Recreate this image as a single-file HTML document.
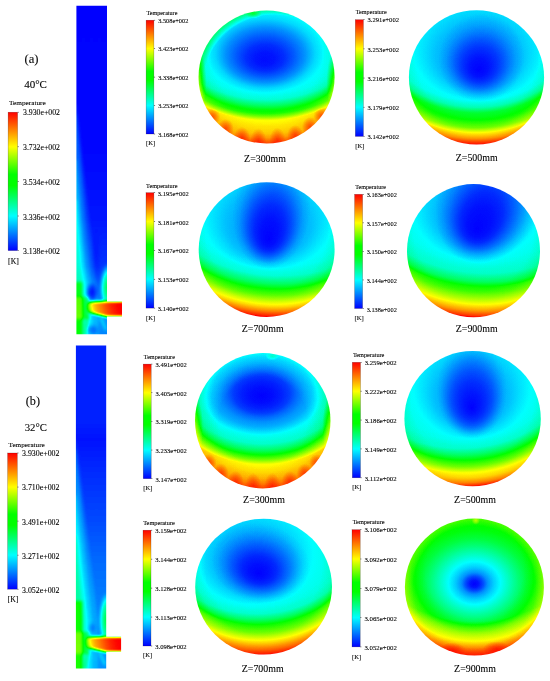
<!DOCTYPE html>
<html><head><meta charset="utf-8"><title>Temperature contours</title>
<style>
html,body{margin:0;padding:0;background:#fff}
svg{display:block}
text{font-family:"Liberation Serif",serif;fill:#000;stroke:#000;stroke-width:.09px}
</style></head><body>
<svg width="550" height="681" viewBox="0 0 550 681">
<defs>
<filter id="jet" x="0" y="0" width="1" height="1" filterUnits="objectBoundingBox" color-interpolation-filters="sRGB">
 <feComponentTransfer>
  <feFuncR type="table" tableValues="0 0 0 1 1"/>
  <feFuncG type="table" tableValues="0 1 1 1 0"/>
  <feFuncB type="table" tableValues="1 1 0 0 0"/>
 </feComponentTransfer>
</filter>
<filter id="jetb" x="-0.5" y="-0.1" width="2.5" height="1.2" color-interpolation-filters="sRGB">
 <feGaussianBlur stdDeviation="1.4"/>
 <feComponentTransfer>
  <feFuncR type="table" tableValues="0 0 0 1 1"/>
  <feFuncG type="table" tableValues="0 1 1 1 0"/>
  <feFuncB type="table" tableValues="1 1 0 0 0"/>
 </feComponentTransfer>
</filter>
<linearGradient id="bar" x1="0" y1="0" x2="0" y2="1">
 <stop offset="0" stop-color="#ff0000"/>
 <stop offset="0.25" stop-color="#ffff00"/>
 <stop offset="0.45" stop-color="#00ff00"/>
 <stop offset="0.53" stop-color="#00ff00"/>
 <stop offset="0.75" stop-color="#00ffff"/>
 <stop offset="1" stop-color="#0000ff"/>
</linearGradient>

<radialGradient id="c1" gradientUnits="userSpaceOnUse" cx="0" cy="-0.25" fx="0" fy="0" r="1.25" gradientTransform="translate(-0.02 -0.25) scale(1.4 1)"><stop offset="0" stop-color="#030303"/><stop offset="0.08" stop-color="#050505"/><stop offset="0.16" stop-color="#0b0b0b"/><stop offset="0.24" stop-color="#161616"/><stop offset="0.33" stop-color="#242424"/><stop offset="0.42" stop-color="#363636"/><stop offset="0.5" stop-color="#404040"/><stop offset="0.64" stop-color="#454545"/><stop offset="1" stop-color="#4a4a4a"/></radialGradient>
<radialGradient id="s1_0" gradientUnits="userSpaceOnUse" cx="0" cy="-0.3" r="1.38"><stop offset="0.5797" stop-color="#fff" stop-opacity="0"/><stop offset="0.6884" stop-color="#fff" stop-opacity="0.0274"/><stop offset="0.7826" stop-color="#fff" stop-opacity="0.11"/><stop offset="0.8551" stop-color="#fff" stop-opacity="0.219"/><stop offset="0.942" stop-color="#fff" stop-opacity="0.342"/></radialGradient>
<radialGradient id="s1_1" gradientUnits="userSpaceOnUse" cx="0" cy="-1.6" r="2.68"><stop offset="0.6604" stop-color="#fff" stop-opacity="0"/><stop offset="0.6903" stop-color="#fff" stop-opacity="0.00685"/><stop offset="0.7239" stop-color="#fff" stop-opacity="0.0411"/><stop offset="0.7575" stop-color="#fff" stop-opacity="0.178"/><stop offset="0.7799" stop-color="#fff" stop-opacity="0.288"/><stop offset="0.8022" stop-color="#fff" stop-opacity="0.336"/><stop offset="0.8209" stop-color="#fff" stop-opacity="0.47"/><stop offset="0.8396" stop-color="#fff" stop-opacity="0.634"/><stop offset="0.8769" stop-color="#fff" stop-opacity="0.654"/><stop offset="0.9142" stop-color="#fff" stop-opacity="0.663"/><stop offset="0.9366" stop-color="#fff" stop-opacity="0.708"/><stop offset="0.9552" stop-color="#fff" stop-opacity="0.784"/><stop offset="0.9701" stop-color="#fff" stop-opacity="0.854"/></radialGradient>
<clipPath id="k1"><ellipse cx="266.55" cy="77" rx="68.05" ry="66.5"/></clipPath>
<radialGradient id="r1_0" gradientUnits="userSpaceOnUse" cx="0.12" cy="0.12" r="1.16971"><stop offset="0.9" stop-color="#fff" stop-opacity="0"/><stop offset="1" stop-color="#fff" stop-opacity="0.2"/></radialGradient>
<radialGradient id="b1_1"><stop offset="0" stop-color="#ffffff" stop-opacity="0.2"/><stop offset="0.5" stop-color="#ffffff" stop-opacity="0.11"/><stop offset="1" stop-color="#ffffff" stop-opacity="0"/></radialGradient>
<radialGradient id="b1_2"><stop offset="0" stop-color="#ffffff" stop-opacity="0.4"/><stop offset="0.5" stop-color="#ffffff" stop-opacity="0.22"/><stop offset="1" stop-color="#ffffff" stop-opacity="0"/></radialGradient>
<radialGradient id="b1_3"><stop offset="0" stop-color="#ffffff" stop-opacity="0.4"/><stop offset="0.5" stop-color="#ffffff" stop-opacity="0.22"/><stop offset="1" stop-color="#ffffff" stop-opacity="0"/></radialGradient>
<radialGradient id="b1_4"><stop offset="0" stop-color="#ffffff" stop-opacity="0.6"/><stop offset="0.5" stop-color="#ffffff" stop-opacity="0.33"/><stop offset="1" stop-color="#ffffff" stop-opacity="0"/></radialGradient>
<radialGradient id="b1_5"><stop offset="0" stop-color="#ffffff" stop-opacity="0.6"/><stop offset="0.5" stop-color="#ffffff" stop-opacity="0.33"/><stop offset="1" stop-color="#ffffff" stop-opacity="0"/></radialGradient>
<radialGradient id="b1_6"><stop offset="0" stop-color="#ffffff" stop-opacity="0.6"/><stop offset="0.5" stop-color="#ffffff" stop-opacity="0.33"/><stop offset="1" stop-color="#ffffff" stop-opacity="0"/></radialGradient>
<radialGradient id="b1_7"><stop offset="0" stop-color="#ffffff" stop-opacity="0.6"/><stop offset="0.5" stop-color="#ffffff" stop-opacity="0.33"/><stop offset="1" stop-color="#ffffff" stop-opacity="0"/></radialGradient>
<radialGradient id="b1_8"><stop offset="0" stop-color="#ffffff" stop-opacity="0.6"/><stop offset="0.5" stop-color="#ffffff" stop-opacity="0.33"/><stop offset="1" stop-color="#ffffff" stop-opacity="0"/></radialGradient>
<radialGradient id="b1_9"><stop offset="0" stop-color="#ffffff" stop-opacity="0.6"/><stop offset="0.5" stop-color="#ffffff" stop-opacity="0.33"/><stop offset="1" stop-color="#ffffff" stop-opacity="0"/></radialGradient>
<radialGradient id="b1_10"><stop offset="0" stop-color="#ffffff" stop-opacity="0.6"/><stop offset="0.5" stop-color="#ffffff" stop-opacity="0.33"/><stop offset="1" stop-color="#ffffff" stop-opacity="0"/></radialGradient>
<radialGradient id="b1_11"><stop offset="0" stop-color="#ffffff" stop-opacity="0.6"/><stop offset="0.5" stop-color="#ffffff" stop-opacity="0.33"/><stop offset="1" stop-color="#ffffff" stop-opacity="0"/></radialGradient>
<radialGradient id="c2" gradientUnits="userSpaceOnUse" cx="0" cy="-0.7" fx="0" fy="0" r="1.7" gradientTransform="translate(0.03 -0.11) scale(1.235 1)"><stop offset="0" stop-color="#212121"/><stop offset="0.15" stop-color="#262626"/><stop offset="0.3" stop-color="#303030"/><stop offset="0.38" stop-color="#383838"/><stop offset="0.47" stop-color="#404040"/><stop offset="0.6" stop-color="#454545"/><stop offset="1" stop-color="#4a4a4a"/></radialGradient>
<radialGradient id="s2_0" gradientUnits="userSpaceOnUse" cx="0" cy="-0.3" r="1.38"><stop offset="0.6522" stop-color="#fff" stop-opacity="0"/><stop offset="0.7609" stop-color="#fff" stop-opacity="0.0411"/><stop offset="0.8551" stop-color="#fff" stop-opacity="0.151"/><stop offset="0.942" stop-color="#fff" stop-opacity="0.315"/></radialGradient>
<radialGradient id="s2_1" gradientUnits="userSpaceOnUse" cx="0" cy="-1.4" r="2.48"><stop offset="0.6653" stop-color="#fff" stop-opacity="0"/><stop offset="0.7056" stop-color="#fff" stop-opacity="0.00685"/><stop offset="0.744" stop-color="#fff" stop-opacity="0.0822"/><stop offset="0.7782" stop-color="#fff" stop-opacity="0.247"/><stop offset="0.8226" stop-color="#fff" stop-opacity="0.307"/><stop offset="0.8669" stop-color="#fff" stop-opacity="0.429"/><stop offset="0.8972" stop-color="#fff" stop-opacity="0.618"/><stop offset="0.9315" stop-color="#fff" stop-opacity="0.746"/><stop offset="0.9617" stop-color="#fff" stop-opacity="0.942"/><stop offset="0.9677" stop-color="#fff" stop-opacity="1"/></radialGradient>
<clipPath id="k2"><ellipse cx="476.5" cy="77.4" rx="67.6" ry="67.2"/></clipPath>
<radialGradient id="w2" gradientUnits="userSpaceOnUse" cx="0" cy="-0.4" fx="0" fy="0" r="1.4" gradientTransform="translate(0.03 -0.11) rotate(14) scale(0.9643 1)"><stop offset="0" stop-color="#000" stop-opacity="1"/><stop offset="0.1" stop-color="#000" stop-opacity="0.88"/><stop offset="0.19" stop-color="#000" stop-opacity="0.66"/><stop offset="0.26" stop-color="#000" stop-opacity="0.45"/><stop offset="0.32" stop-color="#000" stop-opacity="0.27"/><stop offset="0.38" stop-color="#000" stop-opacity="0.13"/><stop offset="0.47" stop-color="#000" stop-opacity="0"/></radialGradient>
<radialGradient id="c3" gradientUnits="userSpaceOnUse" cx="0" cy="-0.8" fx="0" fy="0" r="1.8" gradientTransform="translate(0.03 -0.15) scale(1.167 1)"><stop offset="0" stop-color="#212121"/><stop offset="0.15" stop-color="#262626"/><stop offset="0.3" stop-color="#303030"/><stop offset="0.38" stop-color="#383838"/><stop offset="0.47" stop-color="#404040"/><stop offset="0.6" stop-color="#454545"/><stop offset="1" stop-color="#4a4a4a"/></radialGradient>
<radialGradient id="s3_0" gradientUnits="userSpaceOnUse" cx="0" cy="-0.3" r="1.38"><stop offset="0.6522" stop-color="#fff" stop-opacity="0"/><stop offset="0.7609" stop-color="#fff" stop-opacity="0.0411"/><stop offset="0.8551" stop-color="#fff" stop-opacity="0.123"/><stop offset="0.942" stop-color="#fff" stop-opacity="0.247"/></radialGradient>
<radialGradient id="s3_1" gradientUnits="userSpaceOnUse" cx="0.2" cy="-2" r="3.08"><stop offset="0.7013" stop-color="#fff" stop-opacity="0"/><stop offset="0.7305" stop-color="#fff" stop-opacity="0.00685"/><stop offset="0.776" stop-color="#fff" stop-opacity="0.0411"/><stop offset="0.8149" stop-color="#fff" stop-opacity="0.178"/><stop offset="0.8409" stop-color="#fff" stop-opacity="0.315"/><stop offset="0.8701" stop-color="#fff" stop-opacity="0.412"/><stop offset="0.901" stop-color="#fff" stop-opacity="0.564"/><stop offset="0.9253" stop-color="#fff" stop-opacity="0.664"/><stop offset="0.9481" stop-color="#fff" stop-opacity="0.787"/><stop offset="0.9708" stop-color="#fff" stop-opacity="0.946"/><stop offset="0.974" stop-color="#fff" stop-opacity="1"/></radialGradient>
<clipPath id="k3"><ellipse cx="266.65" cy="249.55" rx="67.95" ry="67.35"/></clipPath>
<radialGradient id="w3" gradientUnits="userSpaceOnUse" cx="0" cy="-1" fx="0" fy="0" r="2" gradientTransform="translate(0.03 -0.15) rotate(6) scale(0.65 1)"><stop offset="0" stop-color="#000" stop-opacity="1"/><stop offset="0.1" stop-color="#000" stop-opacity="0.9"/><stop offset="0.17" stop-color="#000" stop-opacity="0.75"/><stop offset="0.23" stop-color="#000" stop-opacity="0.55"/><stop offset="0.3" stop-color="#000" stop-opacity="0.3"/><stop offset="0.36" stop-color="#000" stop-opacity="0.12"/><stop offset="0.44" stop-color="#000" stop-opacity="0"/></radialGradient>
<radialGradient id="c4" gradientUnits="userSpaceOnUse" cx="0" cy="-0.8" fx="0" fy="0" r="1.8" gradientTransform="translate(0.05 -0.32) scale(1.167 1)"><stop offset="0" stop-color="#212121"/><stop offset="0.15" stop-color="#262626"/><stop offset="0.3" stop-color="#303030"/><stop offset="0.38" stop-color="#383838"/><stop offset="0.47" stop-color="#404040"/><stop offset="0.6" stop-color="#454545"/><stop offset="1" stop-color="#4a4a4a"/></radialGradient>
<radialGradient id="s4_0" gradientUnits="userSpaceOnUse" cx="0" cy="-0.3" r="1.38"><stop offset="0.6522" stop-color="#fff" stop-opacity="0"/><stop offset="0.7609" stop-color="#fff" stop-opacity="0.0411"/><stop offset="0.8551" stop-color="#fff" stop-opacity="0.123"/><stop offset="0.942" stop-color="#fff" stop-opacity="0.247"/></radialGradient>
<radialGradient id="s4_1" gradientUnits="userSpaceOnUse" cx="0.2" cy="-2.2" r="3.28"><stop offset="0.7012" stop-color="#fff" stop-opacity="0"/><stop offset="0.7256" stop-color="#fff" stop-opacity="0.00685"/><stop offset="0.7744" stop-color="#fff" stop-opacity="0.0411"/><stop offset="0.814" stop-color="#fff" stop-opacity="0.178"/><stop offset="0.8354" stop-color="#fff" stop-opacity="0.315"/><stop offset="0.8598" stop-color="#fff" stop-opacity="0.38"/><stop offset="0.8902" stop-color="#fff" stop-opacity="0.504"/><stop offset="0.9192" stop-color="#fff" stop-opacity="0.627"/><stop offset="0.9482" stop-color="#fff" stop-opacity="0.757"/><stop offset="0.971" stop-color="#fff" stop-opacity="0.911"/><stop offset="0.9756" stop-color="#fff" stop-opacity="1"/></radialGradient>
<clipPath id="k4"><ellipse cx="473.5" cy="250.7" rx="66.5" ry="66.6"/></clipPath>
<radialGradient id="w4" gradientUnits="userSpaceOnUse" cx="0" cy="-1" fx="0" fy="0" r="2" gradientTransform="translate(0.05 -0.32) rotate(22) scale(0.75 1)"><stop offset="0" stop-color="#000" stop-opacity="1"/><stop offset="0.12" stop-color="#000" stop-opacity="0.9"/><stop offset="0.2" stop-color="#000" stop-opacity="0.75"/><stop offset="0.28" stop-color="#000" stop-opacity="0.5"/><stop offset="0.35" stop-color="#000" stop-opacity="0.3"/><stop offset="0.42" stop-color="#000" stop-opacity="0.15"/><stop offset="0.52" stop-color="#000" stop-opacity="0"/></radialGradient>
<radialGradient id="c5" gradientUnits="userSpaceOnUse" cx="0" cy="-0.15" fx="0" fy="0" r="1.15" gradientTransform="translate(-0.02 -0.36) scale(1.435 1)"><stop offset="0" stop-color="#000000"/><stop offset="0.1" stop-color="#030303"/><stop offset="0.18" stop-color="#080808"/><stop offset="0.25" stop-color="#0f0f0f"/><stop offset="0.31" stop-color="#1a1a1a"/><stop offset="0.38" stop-color="#242424"/><stop offset="0.45" stop-color="#2b2b2b"/><stop offset="0.52" stop-color="#363636"/><stop offset="0.575" stop-color="#404040"/><stop offset="0.68" stop-color="#454545"/><stop offset="1" stop-color="#4a4a4a"/></radialGradient>
<radialGradient id="s5_0" gradientUnits="userSpaceOnUse" cx="0" cy="-0.3" r="1.38"><stop offset="0.5435" stop-color="#fff" stop-opacity="0"/><stop offset="0.6667" stop-color="#fff" stop-opacity="0.0274"/><stop offset="0.7681" stop-color="#fff" stop-opacity="0.123"/><stop offset="0.8551" stop-color="#fff" stop-opacity="0.247"/><stop offset="0.942" stop-color="#fff" stop-opacity="0.37"/></radialGradient>
<radialGradient id="s5_1" gradientUnits="userSpaceOnUse" cx="0" cy="-1.3" r="2.38"><stop offset="0.5882" stop-color="#fff" stop-opacity="0"/><stop offset="0.6303" stop-color="#fff" stop-opacity="0.00685"/><stop offset="0.6891" stop-color="#fff" stop-opacity="0.0411"/><stop offset="0.7311" stop-color="#fff" stop-opacity="0.178"/><stop offset="0.7605" stop-color="#fff" stop-opacity="0.308"/><stop offset="0.7878" stop-color="#fff" stop-opacity="0.441"/><stop offset="0.8172" stop-color="#fff" stop-opacity="0.627"/><stop offset="0.8571" stop-color="#fff" stop-opacity="0.646"/><stop offset="0.8992" stop-color="#fff" stop-opacity="0.672"/><stop offset="0.9328" stop-color="#fff" stop-opacity="0.731"/><stop offset="0.9664" stop-color="#fff" stop-opacity="0.848"/></radialGradient>
<clipPath id="k5"><ellipse cx="262.75" cy="420.75" rx="67.75" ry="67.65"/></clipPath>
<radialGradient id="r5_0" gradientUnits="userSpaceOnUse" cx="0" cy="0" r="1"><stop offset="0.65" stop-color="#fff" stop-opacity="0"/><stop offset="1" stop-color="#fff" stop-opacity="0.07"/></radialGradient>
<radialGradient id="b5_1"><stop offset="0" stop-color="#ffffff" stop-opacity="0.1"/><stop offset="0.5" stop-color="#ffffff" stop-opacity="0.055"/><stop offset="1" stop-color="#ffffff" stop-opacity="0"/></radialGradient>
<radialGradient id="b5_2"><stop offset="0" stop-color="#ffffff" stop-opacity="0.4"/><stop offset="0.5" stop-color="#ffffff" stop-opacity="0.22"/><stop offset="1" stop-color="#ffffff" stop-opacity="0"/></radialGradient>
<radialGradient id="b5_3"><stop offset="0" stop-color="#ffffff" stop-opacity="0.4"/><stop offset="0.5" stop-color="#ffffff" stop-opacity="0.22"/><stop offset="1" stop-color="#ffffff" stop-opacity="0"/></radialGradient>
<radialGradient id="b5_4"><stop offset="0" stop-color="#ffffff" stop-opacity="0.6"/><stop offset="0.5" stop-color="#ffffff" stop-opacity="0.33"/><stop offset="1" stop-color="#ffffff" stop-opacity="0"/></radialGradient>
<radialGradient id="b5_5"><stop offset="0" stop-color="#ffffff" stop-opacity="0.6"/><stop offset="0.5" stop-color="#ffffff" stop-opacity="0.33"/><stop offset="1" stop-color="#ffffff" stop-opacity="0"/></radialGradient>
<radialGradient id="b5_6"><stop offset="0" stop-color="#ffffff" stop-opacity="0.6"/><stop offset="0.5" stop-color="#ffffff" stop-opacity="0.33"/><stop offset="1" stop-color="#ffffff" stop-opacity="0"/></radialGradient>
<radialGradient id="b5_7"><stop offset="0" stop-color="#ffffff" stop-opacity="0.6"/><stop offset="0.5" stop-color="#ffffff" stop-opacity="0.33"/><stop offset="1" stop-color="#ffffff" stop-opacity="0"/></radialGradient>
<radialGradient id="b5_8"><stop offset="0" stop-color="#ffffff" stop-opacity="0.6"/><stop offset="0.5" stop-color="#ffffff" stop-opacity="0.33"/><stop offset="1" stop-color="#ffffff" stop-opacity="0"/></radialGradient>
<radialGradient id="b5_9"><stop offset="0" stop-color="#ffffff" stop-opacity="0.6"/><stop offset="0.5" stop-color="#ffffff" stop-opacity="0.33"/><stop offset="1" stop-color="#ffffff" stop-opacity="0"/></radialGradient>
<radialGradient id="b5_10"><stop offset="0" stop-color="#ffffff" stop-opacity="0.6"/><stop offset="0.5" stop-color="#ffffff" stop-opacity="0.33"/><stop offset="1" stop-color="#ffffff" stop-opacity="0"/></radialGradient>
<radialGradient id="b5_11"><stop offset="0" stop-color="#ffffff" stop-opacity="0.6"/><stop offset="0.5" stop-color="#ffffff" stop-opacity="0.33"/><stop offset="1" stop-color="#ffffff" stop-opacity="0"/></radialGradient>
<radialGradient id="c6" gradientUnits="userSpaceOnUse" cx="0" cy="-0.7" fx="0" fy="0" r="1.7" gradientTransform="translate(-0.01 -0.155) scale(1.088 1)"><stop offset="0" stop-color="#212121"/><stop offset="0.15" stop-color="#262626"/><stop offset="0.3" stop-color="#303030"/><stop offset="0.38" stop-color="#383838"/><stop offset="0.47" stop-color="#404040"/><stop offset="0.6" stop-color="#454545"/><stop offset="1" stop-color="#4a4a4a"/></radialGradient>
<radialGradient id="s6_0" gradientUnits="userSpaceOnUse" cx="0" cy="-0.3" r="1.38"><stop offset="0.6522" stop-color="#fff" stop-opacity="0"/><stop offset="0.7609" stop-color="#fff" stop-opacity="0.0411"/><stop offset="0.8551" stop-color="#fff" stop-opacity="0.123"/><stop offset="0.942" stop-color="#fff" stop-opacity="0.247"/></radialGradient>
<radialGradient id="s6_1" gradientUnits="userSpaceOnUse" cx="-0.17" cy="-1.6" r="2.68"><stop offset="0.6791" stop-color="#fff" stop-opacity="0"/><stop offset="0.7127" stop-color="#fff" stop-opacity="0.00685"/><stop offset="0.7612" stop-color="#fff" stop-opacity="0.0411"/><stop offset="0.7985" stop-color="#fff" stop-opacity="0.178"/><stop offset="0.8284" stop-color="#fff" stop-opacity="0.311"/><stop offset="0.8619" stop-color="#fff" stop-opacity="0.435"/><stop offset="0.8955" stop-color="#fff" stop-opacity="0.616"/><stop offset="0.9254" stop-color="#fff" stop-opacity="0.672"/><stop offset="0.9515" stop-color="#fff" stop-opacity="0.779"/><stop offset="0.9664" stop-color="#fff" stop-opacity="0.91"/><stop offset="0.9701" stop-color="#fff" stop-opacity="0.964"/></radialGradient>
<clipPath id="k6"><ellipse cx="472.6" cy="418.65" rx="68.2" ry="67.65"/></clipPath>
<radialGradient id="w6" gradientUnits="userSpaceOnUse" cx="0" cy="-0.6" fx="0" fy="0" r="1.6" gradientTransform="translate(-0.01 -0.155) rotate(0) scale(0.7187 1)"><stop offset="0" stop-color="#000" stop-opacity="1"/><stop offset="0.1" stop-color="#000" stop-opacity="0.85"/><stop offset="0.18" stop-color="#000" stop-opacity="0.7"/><stop offset="0.26" stop-color="#000" stop-opacity="0.5"/><stop offset="0.355" stop-color="#000" stop-opacity="0.2"/><stop offset="0.4" stop-color="#000" stop-opacity="0.08"/><stop offset="0.45" stop-color="#000" stop-opacity="0"/></radialGradient>
<radialGradient id="c7" gradientUnits="userSpaceOnUse" cx="0" cy="-0.6" fx="0" fy="0" r="1.6" gradientTransform="translate(-0.16 -0.195) scale(1.187 1)"><stop offset="0" stop-color="#212121"/><stop offset="0.15" stop-color="#262626"/><stop offset="0.3" stop-color="#303030"/><stop offset="0.38" stop-color="#383838"/><stop offset="0.47" stop-color="#404040"/><stop offset="0.6" stop-color="#454545"/><stop offset="1" stop-color="#4a4a4a"/></radialGradient>
<radialGradient id="s7_0" gradientUnits="userSpaceOnUse" cx="0" cy="-0.3" r="1.38"><stop offset="0.6159" stop-color="#fff" stop-opacity="0"/><stop offset="0.7246" stop-color="#fff" stop-opacity="0.0411"/><stop offset="0.8333" stop-color="#fff" stop-opacity="0.178"/><stop offset="0.942" stop-color="#fff" stop-opacity="0.384"/></radialGradient>
<radialGradient id="s7_1" gradientUnits="userSpaceOnUse" cx="-0.1" cy="-1.4" r="2.48"><stop offset="0.6452" stop-color="#fff" stop-opacity="0"/><stop offset="0.6815" stop-color="#fff" stop-opacity="0.00685"/><stop offset="0.7258" stop-color="#fff" stop-opacity="0.0411"/><stop offset="0.7621" stop-color="#fff" stop-opacity="0.178"/><stop offset="0.7903" stop-color="#fff" stop-opacity="0.313"/><stop offset="0.8367" stop-color="#fff" stop-opacity="0.433"/><stop offset="0.875" stop-color="#fff" stop-opacity="0.571"/><stop offset="0.9032" stop-color="#fff" stop-opacity="0.67"/><stop offset="0.9395" stop-color="#fff" stop-opacity="0.808"/><stop offset="0.9637" stop-color="#fff" stop-opacity="0.935"/><stop offset="0.9677" stop-color="#fff" stop-opacity="1"/></radialGradient>
<clipPath id="k7"><ellipse cx="263.6" cy="586.65" rx="68.4" ry="67.95"/></clipPath>
<radialGradient id="w7" gradientUnits="userSpaceOnUse" cx="0" cy="-0.35" fx="0" fy="0" r="1.35" gradientTransform="translate(-0.075 -0.195) rotate(14) scale(1.259 1)"><stop offset="0" stop-color="#000" stop-opacity="1"/><stop offset="0.08" stop-color="#000" stop-opacity="0.9"/><stop offset="0.15" stop-color="#000" stop-opacity="0.75"/><stop offset="0.22" stop-color="#000" stop-opacity="0.5"/><stop offset="0.3" stop-color="#000" stop-opacity="0.25"/><stop offset="0.37" stop-color="#000" stop-opacity="0.08"/><stop offset="0.43" stop-color="#000" stop-opacity="0"/></radialGradient>
<radialGradient id="c8" gradientUnits="userSpaceOnUse" cx="0" cy="-0.05" fx="0" fy="0" r="1.05" gradientTransform="translate(0 -0.045) scale(1.19 1)"><stop offset="0" stop-color="#000000"/><stop offset="0.05" stop-color="#050505"/><stop offset="0.1" stop-color="#121212"/><stop offset="0.15" stop-color="#242424"/><stop offset="0.22" stop-color="#333333"/><stop offset="0.3" stop-color="#404040"/><stop offset="0.39" stop-color="#4f4f4f"/><stop offset="0.5" stop-color="#616161"/><stop offset="0.6" stop-color="#707070"/><stop offset="0.72" stop-color="#7d7d7d"/><stop offset="1" stop-color="#858585"/></radialGradient>
<radialGradient id="s8_0" gradientUnits="userSpaceOnUse" cx="0" cy="-0.25" r="1.33"><stop offset="0.5263" stop-color="#fff" stop-opacity="0"/><stop offset="0.6767" stop-color="#fff" stop-opacity="0.06"/><stop offset="0.8045" stop-color="#fff" stop-opacity="0.2"/><stop offset="0.9398" stop-color="#fff" stop-opacity="0.44"/></radialGradient>
<radialGradient id="s8_1" gradientUnits="userSpaceOnUse" cx="0" cy="-1.5" r="2.58"><stop offset="0.7442" stop-color="#fff" stop-opacity="0"/><stop offset="0.7752" stop-color="#fff" stop-opacity="0"/><stop offset="0.814" stop-color="#fff" stop-opacity="0.162"/><stop offset="0.8527" stop-color="#fff" stop-opacity="0.288"/><stop offset="0.8876" stop-color="#fff" stop-opacity="0.394"/><stop offset="0.9225" stop-color="#fff" stop-opacity="0.583"/><stop offset="0.9535" stop-color="#fff" stop-opacity="0.804"/><stop offset="0.969" stop-color="#fff" stop-opacity="0.893"/></radialGradient>
<clipPath id="k8"><ellipse cx="474.4" cy="587.05" rx="69.5" ry="68.45"/></clipPath>
<radialGradient id="r8_0" gradientUnits="userSpaceOnUse" cx="0" cy="0" r="1"><stop offset="0.88" stop-color="#fff" stop-opacity="0"/><stop offset="1" stop-color="#fff" stop-opacity="0.12"/></radialGradient>
<radialGradient id="b8_1"><stop offset="0" stop-color="#ffffff" stop-opacity="0.7"/><stop offset="0.5" stop-color="#ffffff" stop-opacity="0.385"/><stop offset="1" stop-color="#ffffff" stop-opacity="0"/></radialGradient>
<radialGradient id="b8_2"><stop offset="0" stop-color="#ffffff" stop-opacity="0.7"/><stop offset="0.5" stop-color="#ffffff" stop-opacity="0.385"/><stop offset="1" stop-color="#ffffff" stop-opacity="0"/></radialGradient>
<radialGradient id="b8_3"><stop offset="0" stop-color="#ffffff" stop-opacity="0.3"/><stop offset="0.5" stop-color="#ffffff" stop-opacity="0.165"/><stop offset="1" stop-color="#ffffff" stop-opacity="0"/></radialGradient>
<clipPath id="t1"><path d="M76.4 5.8H107V301.4H122V316.4H107V334.2H76.4Z"/></clipPath>
<linearGradient id="tb1" gradientUnits="userSpaceOnUse" x1="0" y1="5.8" x2="0" y2="334.2"><stop offset="0" stop-color="#000000"/><stop offset="0.4391" stop-color="#010101"/><stop offset="0.6523" stop-color="#050505"/><stop offset="0.7893" stop-color="#0d0d0d"/><stop offset="0.8654" stop-color="#1a1a1a"/><stop offset="0.9507" stop-color="#262626"/><stop offset="0.9994" stop-color="#212121"/></linearGradient>
<radialGradient id="tg1_0"><stop offset="0" stop-color="#ffffff" stop-opacity="0.4"/><stop offset="0.55" stop-color="#ffffff" stop-opacity="0.24"/><stop offset="1" stop-color="#ffffff" stop-opacity="0"/></radialGradient>
<radialGradient id="tg1_1"><stop offset="0" stop-color="#000000" stop-opacity="1"/><stop offset="0.55" stop-color="#000000" stop-opacity="0.6"/><stop offset="1" stop-color="#000000" stop-opacity="0"/></radialGradient>
<radialGradient id="tg1_2"><stop offset="0" stop-color="#000000" stop-opacity="0.45"/><stop offset="0.55" stop-color="#000000" stop-opacity="0.27"/><stop offset="1" stop-color="#000000" stop-opacity="0"/></radialGradient>
<radialGradient id="tg1_3"><stop offset="0" stop-color="#000000" stop-opacity="0.5"/><stop offset="0.55" stop-color="#000000" stop-opacity="0.3"/><stop offset="1" stop-color="#000000" stop-opacity="0"/></radialGradient>
<linearGradient id="tj1" gradientUnits="userSpaceOnUse" x1="87" y1="312.9" x2="124" y2="304.9"><stop offset="0" stop-color="#808080" stop-opacity="0"/><stop offset="0.05" stop-color="#8c8c8c" stop-opacity="0.9"/><stop offset="0.11" stop-color="#adadad" stop-opacity="1"/><stop offset="0.17" stop-color="#c4c4c4" stop-opacity="1"/><stop offset="0.27" stop-color="#d4d4d4" stop-opacity="1"/><stop offset="0.4" stop-color="#e0e0e0" stop-opacity="1"/><stop offset="0.54" stop-color="#ededed" stop-opacity="1"/><stop offset="0.68" stop-color="#f7f7f7" stop-opacity="1"/><stop offset="0.85" stop-color="#ffffff" stop-opacity="1"/><stop offset="1" stop-color="#ffffff" stop-opacity="1"/></linearGradient>
<clipPath id="t2"><path d="M75.9 345.6H106.2V636.8H121.1V651.7H106.2V668.5H75.9Z"/></clipPath>
<linearGradient id="tb2" gradientUnits="userSpaceOnUse" x1="0" y1="345.6" x2="0" y2="668.5"><stop offset="0" stop-color="#080808"/><stop offset="0.2304" stop-color="#080808"/><stop offset="0.2924" stop-color="#040404"/><stop offset="0.3853" stop-color="#0a0a0a"/><stop offset="0.5401" stop-color="#121212"/><stop offset="0.664" stop-color="#1a1a1a"/><stop offset="0.7879" stop-color="#1f1f1f"/><stop offset="0.8993" stop-color="#212121"/><stop offset="0.9582" stop-color="#262626"/><stop offset="0.9985" stop-color="#242424"/></linearGradient>
<radialGradient id="tg2_0"><stop offset="0" stop-color="#ffffff" stop-opacity="0.4"/><stop offset="0.55" stop-color="#ffffff" stop-opacity="0.24"/><stop offset="1" stop-color="#ffffff" stop-opacity="0"/></radialGradient>
<radialGradient id="tg2_1"><stop offset="0" stop-color="#000000" stop-opacity="0.4"/><stop offset="0.55" stop-color="#000000" stop-opacity="0.24"/><stop offset="1" stop-color="#000000" stop-opacity="0"/></radialGradient>
<linearGradient id="tj2" gradientUnits="userSpaceOnUse" x1="85.2" y1="648.25" x2="123.1" y2="640.25"><stop offset="0" stop-color="#808080" stop-opacity="0"/><stop offset="0.05" stop-color="#8c8c8c" stop-opacity="0.9"/><stop offset="0.11" stop-color="#adadad" stop-opacity="1"/><stop offset="0.17" stop-color="#c4c4c4" stop-opacity="1"/><stop offset="0.27" stop-color="#d4d4d4" stop-opacity="1"/><stop offset="0.4" stop-color="#e0e0e0" stop-opacity="1"/><stop offset="0.54" stop-color="#ededed" stop-opacity="1"/><stop offset="0.68" stop-color="#f7f7f7" stop-opacity="1"/><stop offset="0.85" stop-color="#ffffff" stop-opacity="1"/><stop offset="1" stop-color="#ffffff" stop-opacity="1"/></linearGradient></defs>
<rect width="550" height="681" fill="#fff"/>
<g clip-path="url(#k1)"><g filter="url(#jet)"><g transform="translate(266.55 77) scale(68.05 66.5)"><rect x="-1.1" y="-1.1" width="2.2" height="2.2" fill="url(#c1)"/><rect x="-1.1" y="-1.1" width="2.2" height="2.2" fill="url(#s1_0)"/><rect x="-1.1" y="-1.1" width="2.2" height="2.2" fill="url(#s1_1)"/><rect x="-1.1" y="-1.1" width="2.2" height="2.2" fill="url(#r1_0)"/><ellipse cx="-0.19" cy="-0.95" rx="0.12" ry="0.07" fill="url(#b1_1)"/><ellipse cx="-1.02" cy="0.08" rx="0.14" ry="0.5" fill="url(#b1_2)"/><ellipse cx="1.02" cy="0.08" rx="0.14" ry="0.5" fill="url(#b1_3)"/><ellipse cx="-0.8" cy="0.6" rx="0.12" ry="0.13" fill="url(#b1_4)"/><ellipse cx="-0.6" cy="0.78" rx="0.12" ry="0.15" fill="url(#b1_5)"/><ellipse cx="-0.36" cy="0.91" rx="0.12" ry="0.16" fill="url(#b1_6)"/><ellipse cx="-0.12" cy="0.97" rx="0.12" ry="0.2" fill="url(#b1_7)"/><ellipse cx="0.16" cy="0.96" rx="0.12" ry="0.2" fill="url(#b1_8)"/><ellipse cx="0.42" cy="0.88" rx="0.12" ry="0.16" fill="url(#b1_9)"/><ellipse cx="0.64" cy="0.75" rx="0.12" ry="0.15" fill="url(#b1_10)"/><ellipse cx="0.81" cy="0.59" rx="0.12" ry="0.13" fill="url(#b1_11)"/></g></g></g>
<g clip-path="url(#k2)"><g filter="url(#jet)"><g transform="translate(476.5 77.4) scale(67.6 67.2)"><rect x="-1.1" y="-1.1" width="2.2" height="2.2" fill="url(#c2)"/><rect x="-1.1" y="-1.1" width="2.2" height="2.2" fill="url(#w2)"/><rect x="-1.1" y="-1.1" width="2.2" height="2.2" fill="url(#s2_0)"/><rect x="-1.1" y="-1.1" width="2.2" height="2.2" fill="url(#s2_1)"/></g></g></g>
<g clip-path="url(#k3)"><g filter="url(#jet)"><g transform="translate(266.65 249.55) scale(67.95 67.35)"><rect x="-1.1" y="-1.1" width="2.2" height="2.2" fill="url(#c3)"/><rect x="-1.1" y="-1.1" width="2.2" height="2.2" fill="url(#w3)"/><rect x="-1.1" y="-1.1" width="2.2" height="2.2" fill="url(#s3_0)"/><rect x="-1.1" y="-1.1" width="2.2" height="2.2" fill="url(#s3_1)"/></g></g></g>
<g clip-path="url(#k4)"><g filter="url(#jet)"><g transform="translate(473.5 250.7) scale(66.5 66.6)"><rect x="-1.1" y="-1.1" width="2.2" height="2.2" fill="url(#c4)"/><rect x="-1.1" y="-1.1" width="2.2" height="2.2" fill="url(#w4)"/><rect x="-1.1" y="-1.1" width="2.2" height="2.2" fill="url(#s4_0)"/><rect x="-1.1" y="-1.1" width="2.2" height="2.2" fill="url(#s4_1)"/></g></g></g>
<g clip-path="url(#k5)"><g filter="url(#jet)"><g transform="translate(262.75 420.75) scale(67.75 67.65)"><rect x="-1.1" y="-1.1" width="2.2" height="2.2" fill="url(#c5)"/><rect x="-1.1" y="-1.1" width="2.2" height="2.2" fill="url(#s5_0)"/><rect x="-1.1" y="-1.1" width="2.2" height="2.2" fill="url(#s5_1)"/><rect x="-1.1" y="-1.1" width="2.2" height="2.2" fill="url(#r5_0)"/><ellipse cx="0.14" cy="-0.95" rx="0.1" ry="0.06" fill="url(#b5_1)"/><ellipse cx="-1.02" cy="0.1" rx="0.14" ry="0.5" fill="url(#b5_2)"/><ellipse cx="1.02" cy="0.1" rx="0.14" ry="0.5" fill="url(#b5_3)"/><ellipse cx="-0.8" cy="0.62" rx="0.12" ry="0.13" fill="url(#b5_4)"/><ellipse cx="-0.62" cy="0.78" rx="0.12" ry="0.15" fill="url(#b5_5)"/><ellipse cx="-0.4" cy="0.9" rx="0.12" ry="0.16" fill="url(#b5_6)"/><ellipse cx="-0.14" cy="0.97" rx="0.12" ry="0.2" fill="url(#b5_7)"/><ellipse cx="0.14" cy="0.97" rx="0.12" ry="0.2" fill="url(#b5_8)"/><ellipse cx="0.4" cy="0.9" rx="0.12" ry="0.16" fill="url(#b5_9)"/><ellipse cx="0.62" cy="0.78" rx="0.12" ry="0.15" fill="url(#b5_10)"/><ellipse cx="0.8" cy="0.62" rx="0.12" ry="0.13" fill="url(#b5_11)"/></g></g></g>
<g clip-path="url(#k6)"><g filter="url(#jet)"><g transform="translate(472.6 418.65) scale(68.2 67.65)"><rect x="-1.1" y="-1.1" width="2.2" height="2.2" fill="url(#c6)"/><rect x="-1.1" y="-1.1" width="2.2" height="2.2" fill="url(#w6)"/><rect x="-1.1" y="-1.1" width="2.2" height="2.2" fill="url(#s6_0)"/><rect x="-1.1" y="-1.1" width="2.2" height="2.2" fill="url(#s6_1)"/></g></g></g>
<g clip-path="url(#k7)"><g filter="url(#jet)"><g transform="translate(263.6 586.65) scale(68.4 67.95)"><rect x="-1.1" y="-1.1" width="2.2" height="2.2" fill="url(#c7)"/><rect x="-1.1" y="-1.1" width="2.2" height="2.2" fill="url(#w7)"/><rect x="-1.1" y="-1.1" width="2.2" height="2.2" fill="url(#s7_0)"/><rect x="-1.1" y="-1.1" width="2.2" height="2.2" fill="url(#s7_1)"/></g></g></g>
<g clip-path="url(#k8)"><g filter="url(#jet)"><g transform="translate(474.4 587.05) scale(69.5 68.45)"><rect x="-1.1" y="-1.1" width="2.2" height="2.2" fill="url(#c8)"/><rect x="-1.1" y="-1.1" width="2.2" height="2.2" fill="url(#s8_0)"/><rect x="-1.1" y="-1.1" width="2.2" height="2.2" fill="url(#s8_1)"/><rect x="-1.1" y="-1.1" width="2.2" height="2.2" fill="url(#r8_0)"/><ellipse cx="-0.32" cy="0.93" rx="0.2" ry="0.12" fill="url(#b8_1)"/><ellipse cx="0.32" cy="0.91" rx="0.2" ry="0.12" fill="url(#b8_2)"/><ellipse cx="0.02" cy="-0.97" rx="0.06" ry="0.06" fill="url(#b8_3)"/></g></g></g>
<g clip-path="url(#t1)"><g filter="url(#jetb)"><rect x="61.4" y="-9.2" width="80.6" height="358.4" fill="url(#tb1)"/><path d="M70.4 105L76.4 105L98.4 300L98.4 344.2L70.4 344.2Z" fill="#fff" fill-opacity="0.045"/><path d="M70.4 115L76.4 115L92.4 300L92.4 344.2L70.4 344.2Z" fill="#fff" fill-opacity="0.06"/><path d="M70.4 160L76.4 160L87.9 300L87.9 344.2L70.4 344.2Z" fill="#fff" fill-opacity="0.085"/><path d="M70.4 200L76.4 200L83.4 300L83.4 344.2L70.4 344.2Z" fill="#fff" fill-opacity="0.1"/><rect x="70" y="282" width="12.5" height="60" fill="#ffffff" fill-opacity="0.22"/><rect x="70" y="297" width="19" height="22" fill="#ffffff" fill-opacity="0.2"/><ellipse cx="108" cy="287" rx="8" ry="24" fill="url(#tg1_0)"/><ellipse cx="91.8" cy="292.5" rx="6.5" ry="10.5" fill="url(#tg1_1)"/><ellipse cx="96" cy="255" rx="5" ry="30" fill="url(#tg1_2)"/><ellipse cx="92" cy="330" rx="7" ry="6" fill="url(#tg1_3)"/><path d="M88 316L85 334" stroke="#fff" stroke-opacity="0.14" stroke-width="2.2" fill="none"/><path d="M101 318L106 330" stroke="#fff" stroke-opacity="0.1" stroke-width="2.2" fill="none"/><path d="M126 301.1L126 316.7L107 316.7L92 313.2Q87 312.4 87 308.4Q87 302 92 301.7Z" fill="url(#tj1)"/></g></g>
<g clip-path="url(#t2)"><g filter="url(#jetb)"><rect x="60.9" y="330.6" width="80.3" height="352.9" fill="url(#tb2)"/><path d="M69.9 440L75.9 440L97.9 620L97.9 678.5L69.9 678.5Z" fill="#fff" fill-opacity="0.045"/><path d="M69.9 450L75.9 450L91.9 620L91.9 678.5L69.9 678.5Z" fill="#fff" fill-opacity="0.06"/><path d="M69.9 495L75.9 495L87.4 620L87.4 678.5L69.9 678.5Z" fill="#fff" fill-opacity="0.085"/><path d="M69.9 535L75.9 535L82.9 620L82.9 678.5L69.9 678.5Z" fill="#fff" fill-opacity="0.1"/><rect x="70" y="601" width="12.5" height="80" fill="#ffffff" fill-opacity="0.25"/><rect x="70" y="632" width="19" height="22" fill="#ffffff" fill-opacity="0.2"/><ellipse cx="107" cy="620" rx="8" ry="28" fill="url(#tg2_0)"/><ellipse cx="92" cy="628" rx="4" ry="6" fill="url(#tg2_1)"/><path d="M88 652L85 668" stroke="#fff" stroke-opacity="0.14" stroke-width="2.2" fill="none"/><path d="M100 653L105 665" stroke="#fff" stroke-opacity="0.1" stroke-width="2.2" fill="none"/><path d="M125.1 636.5L125.1 652L106.2 652L90.2 648.5Q85.2 647.7 85.2 643.75Q85.2 637.4 90.2 637.1Z" fill="url(#tj2)"/></g></g>
<rect x="8.1" y="112.2" width="9.5" height="138.4" fill="url(#bar)" stroke="#200" stroke-opacity=".45" stroke-width=".45"/>
<text x="9.1" y="105.3" font-size="7.1" text-anchor="start" textLength="36.7" lengthAdjust="spacingAndGlyphs">Temperature</text>
<text x="23" y="115.4" font-size="7.4" text-anchor="start" textLength="37" lengthAdjust="spacingAndGlyphs">3.930e+002</text>
<rect x="17.6" y="111.9" width="1.2" height="0.6" fill="#333"/>
<text x="23" y="150.125" font-size="7.4" text-anchor="start" textLength="37" lengthAdjust="spacingAndGlyphs">3.732e+002</text>
<rect x="17.6" y="146.5" width="1.2" height="0.6" fill="#333"/>
<text x="23" y="184.85" font-size="7.4" text-anchor="start" textLength="37" lengthAdjust="spacingAndGlyphs">3.534e+002</text>
<rect x="17.6" y="181.1" width="1.2" height="0.6" fill="#333"/>
<text x="23" y="219.575" font-size="7.4" text-anchor="start" textLength="37" lengthAdjust="spacingAndGlyphs">3.336e+002</text>
<rect x="17.6" y="215.7" width="1.2" height="0.6" fill="#333"/>
<text x="23" y="254.3" font-size="7.4" text-anchor="start" textLength="37" lengthAdjust="spacingAndGlyphs">3.138e+002</text>
<rect x="17.6" y="250.3" width="1.2" height="0.6" fill="#333"/>
<text x="8.1" y="264.2" font-size="7.4" text-anchor="start" textLength="10.8" lengthAdjust="spacingAndGlyphs">[K]</text>
<rect x="7.6" y="453" width="9.7" height="136.2" fill="url(#bar)" stroke="#200" stroke-opacity=".45" stroke-width=".45"/>
<text x="8.5" y="446.5" font-size="7.1" text-anchor="start" textLength="36.3" lengthAdjust="spacingAndGlyphs">Temperature</text>
<text x="22" y="456.4" font-size="7.4" text-anchor="start" textLength="37.5" lengthAdjust="spacingAndGlyphs">3.930e+002</text>
<rect x="17.3" y="452.7" width="1.2" height="0.6" fill="#333"/>
<text x="22" y="490.45" font-size="7.4" text-anchor="start" textLength="37.5" lengthAdjust="spacingAndGlyphs">3.710e+002</text>
<rect x="17.3" y="486.75" width="1.2" height="0.6" fill="#333"/>
<text x="22" y="524.5" font-size="7.4" text-anchor="start" textLength="37.5" lengthAdjust="spacingAndGlyphs">3.491e+002</text>
<rect x="17.3" y="520.8" width="1.2" height="0.6" fill="#333"/>
<text x="22" y="558.55" font-size="7.4" text-anchor="start" textLength="37.5" lengthAdjust="spacingAndGlyphs">3.271e+002</text>
<rect x="17.3" y="554.85" width="1.2" height="0.6" fill="#333"/>
<text x="22" y="592.6" font-size="7.4" text-anchor="start" textLength="37.5" lengthAdjust="spacingAndGlyphs">3.052e+002</text>
<rect x="17.3" y="588.9" width="1.2" height="0.6" fill="#333"/>
<text x="7.6" y="602.4" font-size="7.4" text-anchor="start" textLength="10.8" lengthAdjust="spacingAndGlyphs">[K]</text>
<rect x="146.1" y="20.2" width="7.8" height="113.8" fill="url(#bar)" stroke="#200" stroke-opacity=".45" stroke-width=".45"/>
<text x="146.5" y="15.3" font-size="6.2" text-anchor="start" textLength="30.9" lengthAdjust="spacingAndGlyphs">Temperature</text>
<text x="158.2" y="22.9" font-size="6.8" text-anchor="start" textLength="30.2" lengthAdjust="spacingAndGlyphs">3.508e+002</text>
<rect x="153.9" y="19.9" width="1.2" height="0.6" fill="#333"/>
<text x="158.2" y="51.4" font-size="6.8" text-anchor="start" textLength="30.2" lengthAdjust="spacingAndGlyphs">3.423e+002</text>
<rect x="153.9" y="48.35" width="1.2" height="0.6" fill="#333"/>
<text x="158.2" y="79.9" font-size="6.8" text-anchor="start" textLength="30.2" lengthAdjust="spacingAndGlyphs">3.338e+002</text>
<rect x="153.9" y="76.8" width="1.2" height="0.6" fill="#333"/>
<text x="158.2" y="108.4" font-size="6.8" text-anchor="start" textLength="30.2" lengthAdjust="spacingAndGlyphs">3.253e+002</text>
<rect x="153.9" y="105.25" width="1.2" height="0.6" fill="#333"/>
<text x="158.2" y="136.9" font-size="6.8" text-anchor="start" textLength="30.2" lengthAdjust="spacingAndGlyphs">3.168e+002</text>
<rect x="153.9" y="133.7" width="1.2" height="0.6" fill="#333"/>
<text x="146.1" y="145.2" font-size="6.8" text-anchor="start" textLength="9.2" lengthAdjust="spacingAndGlyphs">[K]</text>
<rect x="355.3" y="19.7" width="8.1" height="116.7" fill="url(#bar)" stroke="#200" stroke-opacity=".45" stroke-width=".45"/>
<text x="355.8" y="14.4" font-size="6.2" text-anchor="start" textLength="30.9" lengthAdjust="spacingAndGlyphs">Temperature</text>
<text x="367.5" y="22.3" font-size="6.8" text-anchor="start" textLength="31.5" lengthAdjust="spacingAndGlyphs">3.291e+002</text>
<rect x="363.4" y="19.4" width="1.2" height="0.6" fill="#333"/>
<text x="367.5" y="51.525" font-size="6.8" text-anchor="start" textLength="31.5" lengthAdjust="spacingAndGlyphs">3.253e+002</text>
<rect x="363.4" y="48.575" width="1.2" height="0.6" fill="#333"/>
<text x="367.5" y="80.75" font-size="6.8" text-anchor="start" textLength="31.5" lengthAdjust="spacingAndGlyphs">3.216e+002</text>
<rect x="363.4" y="77.75" width="1.2" height="0.6" fill="#333"/>
<text x="367.5" y="109.975" font-size="6.8" text-anchor="start" textLength="31.5" lengthAdjust="spacingAndGlyphs">3.179e+002</text>
<rect x="363.4" y="106.925" width="1.2" height="0.6" fill="#333"/>
<text x="367.5" y="139.2" font-size="6.8" text-anchor="start" textLength="31.5" lengthAdjust="spacingAndGlyphs">3.142e+002</text>
<rect x="363.4" y="136.1" width="1.2" height="0.6" fill="#333"/>
<text x="355.3" y="147.9" font-size="6.8" text-anchor="start" textLength="9.2" lengthAdjust="spacingAndGlyphs">[K]</text>
<rect x="146" y="192.7" width="7.9" height="115.4" fill="url(#bar)" stroke="#200" stroke-opacity=".45" stroke-width=".45"/>
<text x="146.1" y="187.6" font-size="6.2" text-anchor="start" textLength="31.5" lengthAdjust="spacingAndGlyphs">Temperature</text>
<text x="157.8" y="195.6" font-size="6.8" text-anchor="start" textLength="30.9" lengthAdjust="spacingAndGlyphs">3.195e+002</text>
<rect x="153.9" y="192.4" width="1.2" height="0.6" fill="#333"/>
<text x="157.8" y="224.525" font-size="6.8" text-anchor="start" textLength="30.9" lengthAdjust="spacingAndGlyphs">3.181e+002</text>
<rect x="153.9" y="221.25" width="1.2" height="0.6" fill="#333"/>
<text x="157.8" y="253.45" font-size="6.8" text-anchor="start" textLength="30.9" lengthAdjust="spacingAndGlyphs">3.167e+002</text>
<rect x="153.9" y="250.1" width="1.2" height="0.6" fill="#333"/>
<text x="157.8" y="282.375" font-size="6.8" text-anchor="start" textLength="30.9" lengthAdjust="spacingAndGlyphs">3.153e+002</text>
<rect x="153.9" y="278.95" width="1.2" height="0.6" fill="#333"/>
<text x="157.8" y="311.3" font-size="6.8" text-anchor="start" textLength="30.9" lengthAdjust="spacingAndGlyphs">3.140e+002</text>
<rect x="153.9" y="307.8" width="1.2" height="0.6" fill="#333"/>
<text x="146" y="319.9" font-size="6.8" text-anchor="start" textLength="9.2" lengthAdjust="spacingAndGlyphs">[K]</text>
<rect x="354.6" y="194.3" width="8" height="114.2" fill="url(#bar)" stroke="#200" stroke-opacity=".45" stroke-width=".45"/>
<text x="355.3" y="189.1" font-size="6.2" text-anchor="start" textLength="30.6" lengthAdjust="spacingAndGlyphs">Temperature</text>
<text x="366.7" y="197" font-size="6.8" text-anchor="start" textLength="30.2" lengthAdjust="spacingAndGlyphs">3.163e+002</text>
<rect x="362.6" y="194" width="1.2" height="0.6" fill="#333"/>
<text x="366.7" y="225.65" font-size="6.8" text-anchor="start" textLength="30.2" lengthAdjust="spacingAndGlyphs">3.157e+002</text>
<rect x="362.6" y="222.55" width="1.2" height="0.6" fill="#333"/>
<text x="366.7" y="254.3" font-size="6.8" text-anchor="start" textLength="30.2" lengthAdjust="spacingAndGlyphs">3.150e+002</text>
<rect x="362.6" y="251.1" width="1.2" height="0.6" fill="#333"/>
<text x="366.7" y="282.95" font-size="6.8" text-anchor="start" textLength="30.2" lengthAdjust="spacingAndGlyphs">3.144e+002</text>
<rect x="362.6" y="279.65" width="1.2" height="0.6" fill="#333"/>
<text x="366.7" y="311.6" font-size="6.8" text-anchor="start" textLength="30.2" lengthAdjust="spacingAndGlyphs">3.138e+002</text>
<rect x="362.6" y="308.2" width="1.2" height="0.6" fill="#333"/>
<text x="354.6" y="320.1" font-size="6.8" text-anchor="start" textLength="9.2" lengthAdjust="spacingAndGlyphs">[K]</text>
<rect x="143.2" y="364.1" width="8" height="114.6" fill="url(#bar)" stroke="#200" stroke-opacity=".45" stroke-width=".45"/>
<text x="143.8" y="358.8" font-size="6.2" text-anchor="start" textLength="31.1" lengthAdjust="spacingAndGlyphs">Temperature</text>
<text x="155.5" y="366.8" font-size="6.8" text-anchor="start" textLength="31.2" lengthAdjust="spacingAndGlyphs">3.491e+002</text>
<rect x="151.2" y="363.8" width="1.2" height="0.6" fill="#333"/>
<text x="155.5" y="395.5" font-size="6.8" text-anchor="start" textLength="31.2" lengthAdjust="spacingAndGlyphs">3.405e+002</text>
<rect x="151.2" y="392.45" width="1.2" height="0.6" fill="#333"/>
<text x="155.5" y="424.2" font-size="6.8" text-anchor="start" textLength="31.2" lengthAdjust="spacingAndGlyphs">3.319e+002</text>
<rect x="151.2" y="421.1" width="1.2" height="0.6" fill="#333"/>
<text x="155.5" y="452.9" font-size="6.8" text-anchor="start" textLength="31.2" lengthAdjust="spacingAndGlyphs">3.233e+002</text>
<rect x="151.2" y="449.75" width="1.2" height="0.6" fill="#333"/>
<text x="155.5" y="481.6" font-size="6.8" text-anchor="start" textLength="31.2" lengthAdjust="spacingAndGlyphs">3.147e+002</text>
<rect x="151.2" y="478.4" width="1.2" height="0.6" fill="#333"/>
<text x="143.2" y="490.2" font-size="6.8" text-anchor="start" textLength="9.2" lengthAdjust="spacingAndGlyphs">[K]</text>
<rect x="352.3" y="362.3" width="8.2" height="115.5" fill="url(#bar)" stroke="#200" stroke-opacity=".45" stroke-width=".45"/>
<text x="352.9" y="356.8" font-size="6.2" text-anchor="start" textLength="31.5" lengthAdjust="spacingAndGlyphs">Temperature</text>
<text x="364.7" y="364.9" font-size="6.8" text-anchor="start" textLength="31.9" lengthAdjust="spacingAndGlyphs">3.259e+002</text>
<rect x="360.5" y="362" width="1.2" height="0.6" fill="#333"/>
<text x="364.7" y="393.95" font-size="6.8" text-anchor="start" textLength="31.9" lengthAdjust="spacingAndGlyphs">3.222e+002</text>
<rect x="360.5" y="390.875" width="1.2" height="0.6" fill="#333"/>
<text x="364.7" y="423" font-size="6.8" text-anchor="start" textLength="31.9" lengthAdjust="spacingAndGlyphs">3.186e+002</text>
<rect x="360.5" y="419.75" width="1.2" height="0.6" fill="#333"/>
<text x="364.7" y="452.05" font-size="6.8" text-anchor="start" textLength="31.9" lengthAdjust="spacingAndGlyphs">3.149e+002</text>
<rect x="360.5" y="448.625" width="1.2" height="0.6" fill="#333"/>
<text x="364.7" y="481.1" font-size="6.8" text-anchor="start" textLength="31.9" lengthAdjust="spacingAndGlyphs">3.112e+002</text>
<rect x="360.5" y="477.5" width="1.2" height="0.6" fill="#333"/>
<text x="352.3" y="489.3" font-size="6.8" text-anchor="start" textLength="9.2" lengthAdjust="spacingAndGlyphs">[K]</text>
<rect x="143" y="530.2" width="8" height="115.8" fill="url(#bar)" stroke="#200" stroke-opacity=".45" stroke-width=".45"/>
<text x="143.2" y="524.7" font-size="6.2" text-anchor="start" textLength="31.7" lengthAdjust="spacingAndGlyphs">Temperature</text>
<text x="155.2" y="532.5" font-size="6.8" text-anchor="start" textLength="31.5" lengthAdjust="spacingAndGlyphs">3.159e+002</text>
<rect x="151" y="529.9" width="1.2" height="0.6" fill="#333"/>
<text x="155.2" y="561.55" font-size="6.8" text-anchor="start" textLength="31.5" lengthAdjust="spacingAndGlyphs">3.144e+002</text>
<rect x="151" y="558.85" width="1.2" height="0.6" fill="#333"/>
<text x="155.2" y="590.6" font-size="6.8" text-anchor="start" textLength="31.5" lengthAdjust="spacingAndGlyphs">3.128e+002</text>
<rect x="151" y="587.8" width="1.2" height="0.6" fill="#333"/>
<text x="155.2" y="619.65" font-size="6.8" text-anchor="start" textLength="31.5" lengthAdjust="spacingAndGlyphs">3.113e+002</text>
<rect x="151" y="616.75" width="1.2" height="0.6" fill="#333"/>
<text x="155.2" y="648.7" font-size="6.8" text-anchor="start" textLength="31.5" lengthAdjust="spacingAndGlyphs">3.098e+002</text>
<rect x="151" y="645.7" width="1.2" height="0.6" fill="#333"/>
<text x="143" y="657.2" font-size="6.8" text-anchor="start" textLength="9.2" lengthAdjust="spacingAndGlyphs">[K]</text>
<rect x="352" y="529.7" width="8.2" height="117.2" fill="url(#bar)" stroke="#200" stroke-opacity=".45" stroke-width=".45"/>
<text x="352.7" y="524.3" font-size="6.2" text-anchor="start" textLength="31.9" lengthAdjust="spacingAndGlyphs">Temperature</text>
<text x="364.4" y="532.3" font-size="6.8" text-anchor="start" textLength="32.5" lengthAdjust="spacingAndGlyphs">3.106e+002</text>
<rect x="360.2" y="529.4" width="1.2" height="0.6" fill="#333"/>
<text x="364.4" y="561.75" font-size="6.8" text-anchor="start" textLength="32.5" lengthAdjust="spacingAndGlyphs">3.092e+002</text>
<rect x="360.2" y="558.7" width="1.2" height="0.6" fill="#333"/>
<text x="364.4" y="591.2" font-size="6.8" text-anchor="start" textLength="32.5" lengthAdjust="spacingAndGlyphs">3.079e+002</text>
<rect x="360.2" y="588" width="1.2" height="0.6" fill="#333"/>
<text x="364.4" y="620.65" font-size="6.8" text-anchor="start" textLength="32.5" lengthAdjust="spacingAndGlyphs">3.065e+002</text>
<rect x="360.2" y="617.3" width="1.2" height="0.6" fill="#333"/>
<text x="364.4" y="650.1" font-size="6.8" text-anchor="start" textLength="32.5" lengthAdjust="spacingAndGlyphs">3.052e+002</text>
<rect x="360.2" y="646.6" width="1.2" height="0.6" fill="#333"/>
<text x="352" y="658.7" font-size="6.8" text-anchor="start" textLength="9.2" lengthAdjust="spacingAndGlyphs">[K]</text>
<text x="24.5" y="62.8" font-size="12.5" text-anchor="start" textLength="14" lengthAdjust="spacingAndGlyphs">(a)</text>
<text x="24.2" y="87.7" font-size="11" text-anchor="start" textLength="22.8" lengthAdjust="spacingAndGlyphs">40°C</text>
<text x="25.7" y="405" font-size="12.5" text-anchor="start" textLength="14.3" lengthAdjust="spacingAndGlyphs">(b)</text>
<text x="24.7" y="430.7" font-size="11" text-anchor="start" textLength="22.3" lengthAdjust="spacingAndGlyphs">32°C</text>
<text x="244.1" y="161.9" font-size="9.7" text-anchor="start" textLength="41.8" lengthAdjust="spacingAndGlyphs">Z=300mm</text>
<text x="455.8" y="161" font-size="9.7" text-anchor="start" textLength="41.8" lengthAdjust="spacingAndGlyphs">Z=500mm</text>
<text x="241.8" y="332" font-size="9.7" text-anchor="start" textLength="41.8" lengthAdjust="spacingAndGlyphs">Z=700mm</text>
<text x="455.8" y="332" font-size="9.7" text-anchor="start" textLength="41.8" lengthAdjust="spacingAndGlyphs">Z=900mm</text>
<text x="243.1" y="503" font-size="9.7" text-anchor="start" textLength="41.8" lengthAdjust="spacingAndGlyphs">Z=300mm</text>
<text x="454.1" y="503" font-size="9.7" text-anchor="start" textLength="41.8" lengthAdjust="spacingAndGlyphs">Z=500mm</text>
<text x="241.8" y="672" font-size="9.7" text-anchor="start" textLength="41.8" lengthAdjust="spacingAndGlyphs">Z=700mm</text>
<text x="454.1" y="672" font-size="9.7" text-anchor="start" textLength="41.8" lengthAdjust="spacingAndGlyphs">Z=900mm</text>
</svg>
</body></html>
